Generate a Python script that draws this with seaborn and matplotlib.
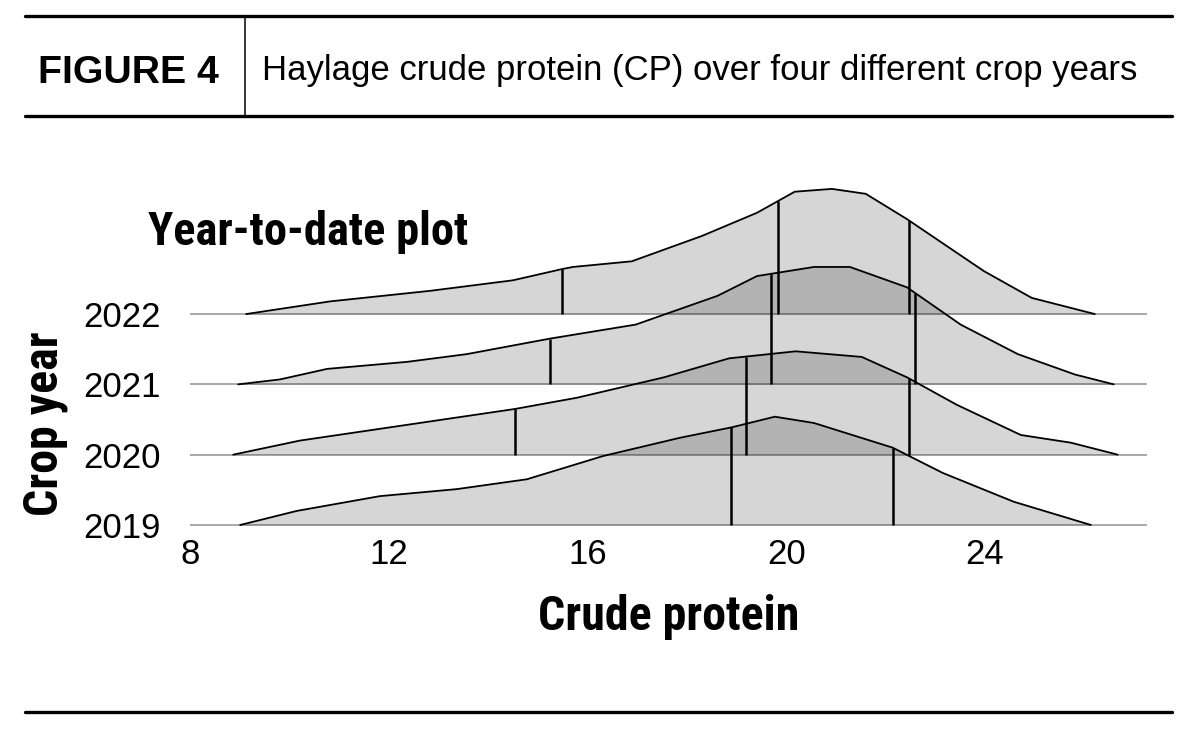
import numpy as np
import seaborn as sns
import matplotlib.pyplot as plt
from matplotlib import font_manager
from matplotlib.lines import Line2D

years = ['2019', '2020', '2021', '2022']

# ridge outlines: crude protein value and ridge height (row units)
cp_2019 = [9.01, 10.15, 11.82, 13.37, 14.78, 16.31, 17.86, 18.91, 19.77, 20.56, 22.14, 23.15, 24.58, 26.13]
dens_2019 = [0, 0.20, 0.41, 0.51, 0.65, 0.98, 1.24, 1.39, 1.54, 1.45, 1.10, 0.74, 0.33, 0]

cp_2020 = [8.87, 10.21, 12.23, 14.54, 15.79, 17.54, 18.85, 20.19, 21.52, 22.43, 23.43, 24.72, 25.73, 26.67]
dens_2020 = [0, 0.20, 0.41, 0.65, 0.81, 1.10, 1.37, 1.47, 1.39, 1.10, 0.71, 0.28, 0.17, 0]

cp_2021 = [8.97, 9.81, 10.76, 12.37, 13.57, 15.24, 16.97, 18.62, 19.41, 20.56, 21.28, 22.43, 23.51, 24.66, 25.81, 26.59]
dens_2021 = [0, 0.07, 0.22, 0.32, 0.43, 0.65, 0.85, 1.26, 1.54, 1.67, 1.67, 1.38, 0.85, 0.43, 0.14, 0]

cp_2022 = [9.13, 10.82, 12.83, 14.50, 15.49, 15.71, 16.89, 18.30, 19.41, 20.17, 20.92, 21.60, 22.43, 23.98, 24.94, 26.21]
dens_2022 = [0, 0.18, 0.33, 0.48, 0.64, 0.67, 0.75, 1.11, 1.44, 1.74, 1.78, 1.71, 1.35, 0.61, 0.23, 0]

# quartile lines
quart_2019 = [18.89, 22.14]
quart_2020 = [14.54, 19.19, 22.47]
quart_2021 = [15.24, 19.70, 22.59]
quart_2022 = [15.49, 19.84, 22.47]

x_ticks = [8, 12, 16, 20, 24]

ridges = [(cp_2019, dens_2019, quart_2019),
          (cp_2020, dens_2020, quart_2020),
          (cp_2021, dens_2021, quart_2021),
          (cp_2022, dens_2022, quart_2022)]


def has_font(name):
    try:
        font_manager.findfont(name, fallback_to_default=False)
        return True
    except ValueError:
        return False


sns.set_theme(style='white')
plt.rcParams['font.family'] = ['Liberation Sans', 'DejaVu Sans']
plt.rcParams['text.color'] = 'black'

# condensed bold for the plot labels, narrower size if no condensed face
cond = ['Liberation Sans']
cond_size = 28.5
for name in ['Roboto Condensed', 'Liberation Sans Narrow', 'Open Sans Condensed']:
    if has_font(name):
        cond = [name, 'Liberation Sans']
        cond_size = 34.5
        break

fig = plt.figure(figsize=(12, 7.33), dpi=100)
ax = fig.add_axes([190 / 1200, 0.279, 957 / 1200, 0.4748])

# back ridge (2022) first, front ridge (2019) last
for i in range(len(years) - 1, -1, -1):
    x, h, q = ridges[i]
    x = np.array(x)
    y = i + np.array(h)
    z = 10 - i
    ax.fill_between(x, i, y, color='black', alpha=0.16, linewidth=0, zorder=z)
    sns.lineplot(x=x, y=y, color='black', linewidth=1.3, estimator=None,
                 sort=False, ax=ax, zorder=z)
    ax.vlines(q, i, i + np.interp(q, x, h), color='black', linewidth=1.8, zorder=z)

ax.set_xlim(8, 27.26)
ax.set_ylim(-0.05, 4.9)
ax.set_xticks(x_ticks)
ax.set_yticks(range(len(years)))
ax.set_yticklabels(years)
ax.grid(axis='y', color='#a8a8a8', linewidth=1.4)
ax.grid(axis='x', visible=False)
ax.set_axisbelow(True)
for s in ax.spines.values():
    s.set_visible(False)
ax.tick_params(axis='y', length=0, pad=21, labelsize=25, labelcolor='black')
ax.tick_params(axis='x', length=0, pad=7, labelsize=25, labelcolor='black')

ax.set_xlabel('Crude protein', family=cond, fontweight='bold', fontsize=cond_size, color='black')
ax.xaxis.label.set_va('baseline')
ax.xaxis.set_label_coords(0.5, -0.2917)
ax.set_ylabel('Crop year', family=cond, fontweight='bold', fontsize=cond_size, color='black')
ax.yaxis.label.set_va('center')
ax.yaxis.set_label_coords(-0.152, 0.30)

fig.text(148 / 1200, 1 - 245 / 733, 'Year-to-date plot', family=cond,
         fontweight='bold', fontsize=cond_size - 1, va='baseline', ha='left')

# header box
fig.add_artist(Line2D([25 / 1200, 1172 / 1200], [1 - 16 / 733] * 2, color='black', linewidth=2.4))
fig.add_artist(Line2D([25 / 1200, 1172 / 1200], [1 - 116 / 733] * 2, color='black', linewidth=2.4))
fig.add_artist(Line2D([245 / 1200] * 2, [1 - 17 / 733, 1 - 115 / 733], color='black', linewidth=1.1))
fig.add_artist(Line2D([25 / 1200, 1172 / 1200], [1 - 712 / 733] * 2, color='black', linewidth=2.4))
fig.text(38 / 1200, 1 - 83 / 733, 'FIGURE 4', fontweight='bold', fontsize=28.3,
         va='baseline', ha='left')
fig.text(262 / 1200, 1 - 80 / 733, 'Haylage crude protein (CP) over four different crop years',
         fontsize=25, va='baseline', ha='left')

fig.savefig('out.png', dpi=100)
